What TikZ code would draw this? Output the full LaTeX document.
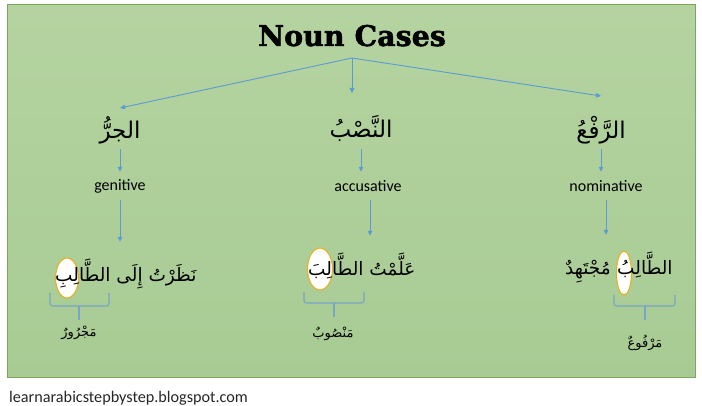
\documentclass[tikz,border=0pt]{standalone}
\usepackage{fontspec}
\usetikzlibrary{arrows.meta}
\setmainfont{Carlito}
\newfontfamily\arabicfont[Script=Arabic]{DejaVu Sans}
\newfontfamily\titlefont[BoldFeatures={FakeBold=1.6}]{DejaVu Serif}
\TeXXeTstate=1
\definecolor{gtop}{RGB}{180,211,160}
\definecolor{gmid}{RGB}{207,228,197}
\definecolor{gbot}{RGB}{168,203,148}
\definecolor{gborder}{RGB}{125,165,95}
\definecolor{arrowblue}{RGB}{91,155,213}
\definecolor{braceblue}{RGB}{120,165,200}
\definecolor{ellborder}{RGB}{232,176,32}
\pgfdeclarelayer{back}
\pgfdeclarelayer{mid}
\pgfsetlayers{back,mid,main}
\tikzset{
  conn/.style={draw=arrowblue, line width=0.9pt, -{Triangle[length=5pt,width=4.5pt]}},
  bracepath/.style={draw=braceblue, line width=1.1pt, rounded corners=2.5pt},
  heading/.style={font=\arabicfont\fontsize{23}{26}\selectfont, inner sep=0pt, anchor=north},
  caselabel/.style={font=\fontsize{16}{18}\selectfont, inner sep=0pt, minimum height=28pt},
  sentence/.style={font=\arabicfont\fontsize{18.5}{22}\selectfont, inner sep=0pt, text height=40pt, text depth=8pt},
  small/.style={font=\arabicfont\fontsize{13}{15}\selectfont, inner sep=1pt},
  hilite/.style={draw=ellborder, fill=white, line width=1.1pt}
}
\begin{document}
\begin{tikzpicture}[x=1pt,y=-1pt]
\useasboundingbox (0,0) rectangle (702,406);
\begin{pgfonlayer}{back}
  \shade[top color=gtop, middle color=gmid, bottom color=gbot] (7,5) rectangle (695,377);
  \draw[gborder, line width=1pt] (7,5) rectangle (695,377);
\end{pgfonlayer}

% title
\node[font=\titlefont\bfseries\fontsize{28.5}{32}\selectfont, inner sep=0pt, anchor=base] (title) at (352,46) {Noun Cases};
\coordinate (top) at (352,58);

% headings
\node[heading, text height=30pt, text depth=11pt] (h1) at (120,108) {\beginR الجرُّ\endR};
\node[heading, text height=44pt, text depth=12pt] (h2) at (361,93) {\beginR النَّصْبُ\endR};
\node[heading, text height=42pt, text depth=11pt] (h3) at (601,96) {\beginR الرَّفْعُ\endR};

\draw[conn] (top) -- (h1.north);
\draw[conn] (top) -- (top |- h2.north);
\draw[conn] (top) -- (h3.north);

% case labels
\node[caselabel] (c1) at (120,186) {genitive};
\node[caselabel] (c2) at (368,186) {accusative};
\node[caselabel] (c3) at (606,186) {nominative};

\draw[conn] (h1.south) -- (h1.south |- c1.north);
\draw[conn] (h2.south) -- (h2.south |- c2.north);
\draw[conn] (h3.south) -- (h3.south |- c3.north);

% sentences
\node[sentence, anchor=base west] (s1) at (55,282) {\beginR نَظَرْتُ إِلَى الطَّالِبِ\endR};
\node[sentence, anchor=base west] (s2) at (308,276) {\beginR عَلَّمْتُ الطَّالِبَ\endR};
\node[sentence, anchor=base west] (s3a) at (617,275) {\beginR الطَّالِبُ\endR};
\node[sentence, anchor=base east, xshift=-6pt] (s3b) at (s3a.base west) {\beginR مُجْتَهِدٌ\endR};

\draw[conn] (c1.south) -- (c1.south |- s1.north);
\draw[conn] (c2.south -| 370,0) -- (370,0 |- s2.north);
\draw[conn] (c3.south) -- (c3.south |- s3a.north);

% highlight ellipses
\begin{pgfonlayer}{mid}
  \draw[hilite] (67,278) ellipse [x radius=11.5, y radius=20];
  \draw[hilite] (320,269) ellipse [x radius=12.5, y radius=21];
  \draw[hilite] (624,273) ellipse [x radius=7.5, y radius=22];
\end{pgfonlayer}

% braces
\draw[bracepath] (50,293) -- (50,306) -- (109,306) -- (109,293);
\draw[braceblue, line width=1.1pt] (79,306) -- (79,320);
\draw[bracepath] (304,292) -- (304,303) -- (364,303) -- (364,292);
\draw[braceblue, line width=1.1pt] (334,303) -- (334,317);
\draw[bracepath] (614,295) -- (614,306) -- (675,306) -- (675,295);
\draw[braceblue, line width=1.1pt] (645,306) -- (645,320);

% brace labels
\node[small] (l1) at (79,333) {\beginR مَجْرُورٌ\endR};
\node[small] (l2) at (333,334) {\beginR مَنْصُوبٌ\endR};
\node[small] (l3) at (645,343) {\beginR مَرْفُوعٌ\endR};

% footer
\node[font=\fontsize{16.2}{19}\selectfont, inner sep=0pt, anchor=base west, text=black!85] (footer) at (9,402) {learnarabicstepbystep.blogspot.com};
\end{tikzpicture}
\end{document}
